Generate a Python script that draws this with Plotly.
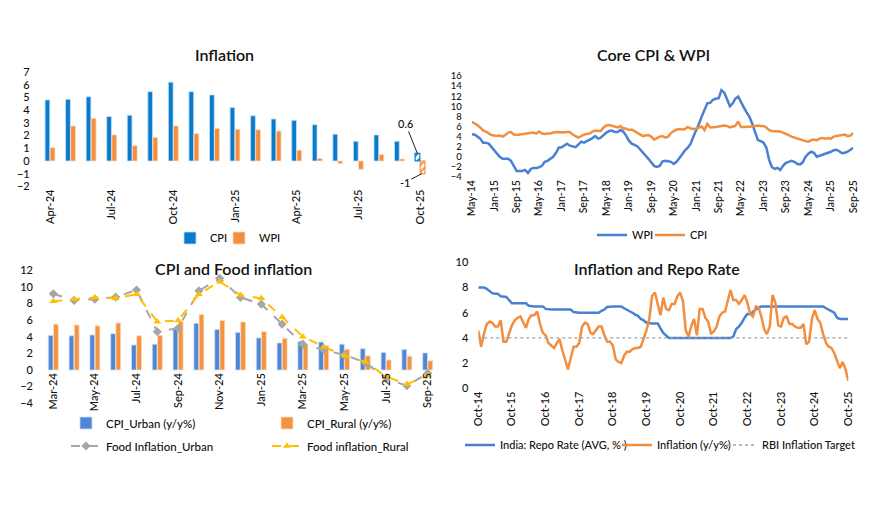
import plotly.graph_objects as go
import pandas as pd

W, H = 879, 505

# ---------------- Panel 1: Inflation (CPI vs WPI) ----------------
p1_months = ["Apr-24", "May-24", "Jun-24", "Jul-24", "Aug-24", "Sep-24", "Oct-24", "Nov-24",
             "Dec-24", "Jan-25", "Feb-25", "Mar-25", "Apr-25", "May-25", "Jun-25", "Jul-25",
             "Aug-25", "Sep-25", "Oct-25"]
p1_cpi = [4.8, 4.85, 5.05, 3.5, 3.6, 5.45, 6.2, 5.45, 5.2, 4.2, 3.55, 3.3, 3.2, 2.85, 2.1,
          1.55, 2.05, 1.55, 0.6]
p1_wpi = [1.05, 2.75, 3.35, 2.05, 1.2, 1.85, 2.75, 2.15, 2.55, 2.5, 2.45, 2.35, 0.85, 0.2,
          -0.2, -0.65, 0.5, 0.15, -1.0]
p1_forecast = [False] * 18 + [True]
p1_ticks = ["Apr-24", "Jul-24", "Oct-24", "Jan-25", "Apr-25", "Jul-25", "Oct-25"]

# ---------------- Panel 2: Core CPI & WPI (May-14 .. Sep-25) ----------------
p2_start = "2014-05-01"
p2_wpi = [4.4, 4.4, 4.0, 3.6, 2.8, 2.8, 2.6, 2.0,
          1.3, 0.6, 0.0, -0.4, -0.4, -0.4, -0.8, -1.8, -2.8, -2.8, -2.8, -2.6,
          -3.2, -2.4, -2.2, -2.2, -2.1, -1.8, -1.0, -0.8, -0.4, 0.0, 0.8, 1.8,
          1.9, 2.2, 2.6, 2.2, 2.1, 1.9, 2.4, 3.0, 2.8, 3.1, 3.3, 3.7,
          4.1, 3.6, 3.8, 4.4, 4.8, 5.1, 5.2, 4.9, 4.9, 5.3, 5.0, 4.2,
          3.2, 2.6, 2.4, 2.1, 1.5, 0.9, 0.2, -0.4, -1.1, -1.8, -2.0, -1.8,
          -0.9, -0.8, -0.9, -1.0, -1.4, -1.0, -0.3, 0.6, 1.3, 1.8, 2.6, 4.0,
          5.2, 6.6, 8.0, 9.4, 10.6, 10.7, 11.3, 11.5, 11.6, 13.2, 12.7, 11.4,
          10.0, 10.6, 11.5, 11.9, 11.0, 9.8, 8.8, 7.9, 6.5, 4.8, 3.3, 3.1,
          2.8, 1.8, -0.5, -2.0, -2.4, -2.2, -2.6, -1.8, -1.2, -1.0, -0.8, -1.0,
          -1.4, -1.5, -1.1, 0.0, 0.6, 1.0, 0.8, 0.0, 0.2, 0.4, 0.5, 0.7,
          1.0, 1.3, 1.4, 1.1, 0.7, 0.8, 1.0, 1.4, 1.8]
p2_cpi = [6.9, 6.6, 6.3, 5.8, 5.2, 5.0, 4.6, 4.3,
          4.2, 4.1, 4.2, 4.0, 4.3, 4.8, 4.9, 4.4, 4.3, 4.4, 4.5, 4.6,
          4.7, 4.8, 4.8, 4.6, 5.0, 4.6, 4.5, 4.6, 4.6, 4.8, 4.9, 4.9,
          4.8, 4.9, 4.9, 4.9, 4.4, 4.1, 3.8, 4.1, 4.4, 4.5, 4.6, 5.0,
          5.2, 5.1, 5.1, 5.8, 6.2, 6.3, 6.1, 5.9, 5.8, 6.1, 5.6, 5.6,
          5.3, 5.4, 5.1, 4.6, 4.3, 4.1, 4.2, 4.3, 4.0, 3.4, 3.7, 4.0,
          4.1, 3.8, 4.0, 4.7, 5.1, 5.4, 5.5, 5.4, 5.5, 5.9, 5.6, 5.5,
          5.6, 5.8, 6.0, 5.3, 6.5, 5.8, 5.8, 5.9, 6.0, 6.1, 6.2, 6.1,
          5.8, 6.0, 6.1, 7.0, 5.9, 5.9, 5.9, 6.0, 6.0, 6.1, 6.2, 6.1,
          6.1, 5.8, 5.3, 5.1, 5.1, 5.0, 5.0, 4.8, 4.6, 4.3, 4.0, 3.8,
          3.6, 3.4, 3.2, 3.1, 3.0, 3.3, 3.4, 3.3, 3.6, 3.7, 3.6, 3.7,
          3.6, 4.0, 4.1, 4.2, 4.3, 4.4, 4.1, 4.2, 4.7]

# ---------------- Panel 3: CPI and Food inflation ----------------
p3_months = ["Mar-24", "Apr-24", "May-24", "Jun-24", "Jul-24", "Aug-24", "Sep-24", "Oct-24",
             "Nov-24", "Dec-24", "Jan-25", "Feb-25", "Mar-25", "Apr-25", "May-25", "Jun-25",
             "Jul-25", "Aug-25", "Sep-25"]
p3_cpi_urban = [4.15, 4.1, 4.2, 4.35, 3.0, 3.1, 4.9, 5.6, 4.85, 4.5, 3.85, 3.25, 3.4, 3.35,
                3.1, 2.55, 2.1, 2.45, 2.05]
p3_cpi_rural = [5.5, 5.4, 5.3, 5.65, 4.1, 4.15, 5.8, 6.65, 5.95, 5.75, 4.6, 3.8, 3.0, 2.9,
                2.5, 1.7, 1.2, 1.65, 1.1]
p3_food_urban = [9.15, 8.35, 8.5, 8.75, 9.6, 4.6, 5.0, 9.5, 11.0, 8.7, 7.9, 5.5, 3.1, 2.4,
                 1.8, 0.9, -1.0, -1.9, -0.4]
p3_food_rural = [8.25, 8.5, 8.7, 8.6, 9.1, 5.8, 5.95, 9.1, 10.6, 9.0, 8.6, 6.35, 4.0, 2.8,
                 1.7, 1.0, -0.8, -1.7, -0.7]
p3_ticks = ["Mar-24", "May-24", "Jul-24", "Sep-24", "Nov-24", "Jan-25", "Mar-25", "May-25",
            "Jul-25", "Sep-25"]

# ---------------- Panel 4: Inflation and Repo Rate (Oct-14 .. Oct-25) ----------------
p4_start = "2014-10-01"
p4_repo = [8.0, 8.0, 8.0,
           7.9, 7.75, 7.55, 7.5, 7.5, 7.3, 7.25, 7.25, 7.0, 6.75, 6.75, 6.75,
           6.75, 6.75, 6.75, 6.55, 6.5, 6.5, 6.5, 6.5, 6.5, 6.3, 6.25, 6.25,
           6.25, 6.25, 6.25, 6.25, 6.25, 6.25, 6.25, 6.05, 6.0, 6.0, 6.0, 6.0,
           6.0, 6.0, 6.0, 6.0, 6.0, 6.15, 6.25, 6.45, 6.5, 6.5, 6.5, 6.5,
           6.5, 6.35, 6.25, 6.1, 6.0, 5.85, 5.75, 5.5, 5.4, 5.2, 5.15, 5.15,
           5.15, 5.15, 4.75, 4.4, 4.2, 4.0, 4.0, 4.0, 4.0, 4.0, 4.0, 4.0,
           4.0, 4.0, 4.0, 4.0, 4.0, 4.0, 4.0, 4.0, 4.0, 4.0, 4.0, 4.0,
           4.0, 4.0, 4.0, 4.0, 4.1, 4.7, 4.9, 5.2, 5.6, 5.9, 5.9, 6.1,
           6.25, 6.4, 6.5, 6.5, 6.5, 6.5, 6.5, 6.5, 6.5, 6.5, 6.5, 6.5,
           6.5, 6.5, 6.5, 6.5, 6.5, 6.5, 6.5, 6.5, 6.5, 6.5, 6.5, 6.5,
           6.5, 6.35, 6.25, 6.1, 6.0, 5.6, 5.5, 5.5, 5.5, 5.5]
p4_inflation = [4.6, 3.3, 4.3,
                5.1, 5.3, 5.2, 4.9, 4.9, 5.4, 3.7, 3.7, 4.4, 5.0, 5.4, 5.6,
                5.7, 5.2, 4.8, 5.5, 5.8, 5.8, 6.1, 5.1, 4.4, 4.2, 3.6, 3.4,
                3.2, 3.6, 3.9, 3.0, 2.2, 1.5, 2.4, 3.3, 3.3, 3.6, 4.9, 5.2,
                5.1, 4.4, 4.3, 4.6, 4.9, 4.9, 4.2, 3.7, 3.7, 3.4, 2.3, 2.1,
                2.0, 2.6, 2.9, 2.9, 3.1, 3.2, 3.2, 3.3, 4.0, 4.6, 5.5, 7.35,
                7.6, 6.6, 5.8, 7.2, 6.3, 6.2, 6.7, 6.7, 7.3, 7.6, 6.9, 4.6,
                4.1, 5.0, 5.5, 4.2, 6.3, 6.3, 5.6, 5.3, 4.35, 4.5, 4.9, 5.7,
                6.0, 6.1, 7.0, 7.8, 7.0, 7.0, 6.7, 7.0, 7.4, 6.8, 5.9, 5.7,
                6.5, 6.4, 5.7, 4.7, 4.3, 4.9, 7.4, 6.8, 5.0, 4.9, 5.6, 5.7,
                5.1, 5.1, 4.9, 4.8, 4.8, 5.1, 3.5, 3.7, 5.5, 6.2, 5.5, 5.2,
                4.3, 3.6, 3.3, 3.2, 2.8, 2.1, 1.6, 2.1, 1.5, 0.6]
p4_target = 4.0

# ---------------- styling ----------------
FONT = "Lato"
BLUE1, ORANGE1 = "#0A7BCC", "#F28E3E"
BLUE2, ORANGE2 = "#4A80D2", "#F28E3E"
GRAY, YELLOW = "#A6A6A6", "#FFC000"


def px_x(p):
    return p / W


def px_y(p):
    return 1 - p / H


p2_dates = pd.date_range(p2_start, periods=len(p2_wpi), freq="MS")
p4_dates = pd.date_range(p4_start, periods=len(p4_repo), freq="MS")

fig = go.Figure()


def bar_style(color, light, flags):
    return dict(
        color=color,
        line=dict(color=[color if f else light for f in flags],
                  width=[1.2 if f else 0.8 for f in flags]),
        pattern=dict(shape=["/" if f else "" for f in flags], fillmode="replace",
                     bgcolor="white", size=5, solidity=0.35),
    )


# Panel 1 bars
fig.add_trace(go.Bar(x=p1_months, y=p1_cpi, name="CPI", xaxis="x", yaxis="y",
                     marker=bar_style(BLUE1, "#BFE0F7", p1_forecast), legend="legend"))
fig.add_trace(go.Bar(x=p1_months, y=p1_wpi, name="WPI", xaxis="x", yaxis="y",
                     marker=bar_style(ORANGE1, "#FBD9BC", p1_forecast), legend="legend6"))

# Panel 2 lines
fig.add_trace(go.Scatter(x=p2_dates, y=p2_wpi, name="WPI", mode="lines", xaxis="x2", yaxis="y2",
                         line=dict(color=BLUE2, width=2.5), legend="legend2"))
fig.add_trace(go.Scatter(x=p2_dates, y=p2_cpi, name="CPI", mode="lines", xaxis="x2", yaxis="y2",
                         line=dict(color=ORANGE2, width=2.5), legend="legend7"))

# Panel 3
fig.add_trace(go.Bar(x=p3_months, y=p3_cpi_urban, name="CPI_Urban (y/y%)", xaxis="x3", yaxis="y3",
                     marker=dict(color="#4F86D6", line=dict(color="#C9DAF3", width=0.8)),
                     legend="legend3"))
fig.add_trace(go.Bar(x=p3_months, y=p3_cpi_rural, name="CPI_Rural (y/y%)", xaxis="x3", yaxis="y3",
                     marker=dict(color="#F39442", line=dict(color="#FBDCC0", width=0.8)),
                     legend="legend3"))
fig.add_trace(go.Scatter(x=p3_months, y=p3_food_urban, name="Food Inflation_Urban",
                         mode="lines+markers", xaxis="x3", yaxis="y3",
                         line=dict(color=GRAY, width=2, dash="dash"),
                         marker=dict(symbol="diamond", size=7, color=GRAY), legend="legend5"))
fig.add_trace(go.Scatter(x=p3_months, y=p3_food_rural, name="Food inflation_Rural",
                         mode="lines+markers", xaxis="x3", yaxis="y3",
                         line=dict(color=YELLOW, width=2, dash="dash"),
                         marker=dict(symbol="triangle-up", size=7, color=YELLOW), legend="legend5"))

# Panel 4
fig.add_trace(go.Scatter(x=p4_dates, y=p4_repo, name="India: Repo Rate (AVG, % )", mode="lines",
                         xaxis="x4", yaxis="y4", line=dict(color=BLUE2, width=2.5),
                         legend="legend4"))
fig.add_trace(go.Scatter(x=p4_dates, y=p4_inflation, name="Inflation (y/y%)", mode="lines",
                         xaxis="x4", yaxis="y4", line=dict(color=ORANGE2, width=2.5),
                         legend="legend8"))
fig.add_trace(go.Scatter(x=[p4_dates[0], p4_dates[-1]], y=[p4_target, p4_target],
                         name="RBI Inflation Target", mode="lines", xaxis="x4", yaxis="y4",
                         line=dict(color="#A0A0A0", width=1.3, dash="dot"), legend="legend9"))

tickfont = dict(family=FONT, size=11, color="#111111", weight=500)
tickfont_x2 = dict(family=FONT, size=10.5, color="#111111", weight=500)
tickfont_y2 = dict(family=FONT, size=9.5, color="#111111", weight=500)
common_y = dict(showgrid=False, zeroline=False, showline=False, ticks="", ticklabelstandoff=9)
common_x = dict(showgrid=False, zeroline=False, showline=False, ticks="", tickangle=-90)

y3_dom = [px_y(403.3), px_y(270)]
y3_range = [-4, 12]
x3_pos = y3_dom[0] + (0 - y3_range[0]) / (y3_range[1] - y3_range[0]) * (y3_dom[1] - y3_dom[0])

legend_font = dict(family=FONT, size=11, color="#111111", weight=500)
legend_font_p3 = dict(family=FONT, size=11.5, color="#111111", weight=500)


def leg(x, y, **kw):
    d = dict(x=x, y=y, xref="paper", yref="paper", xanchor="left", yanchor="middle",
             orientation="h", bgcolor="rgba(0,0,0,0)", font=legend_font, itemwidth=30,
             traceorder="normal")
    d.update(kw)
    return d


fig.update_layout(
    width=W, height=H, autosize=False,
    margin=dict(l=0, r=0, t=0, b=0, autoexpand=False),
    paper_bgcolor="white", plot_bgcolor="white",
    barmode="group", bargap=0.5, bargroupgap=0.08,
    font=dict(family=FONT, color="#111111"),
    xaxis=dict(domain=[px_x(39.7), px_x(430.3)], anchor="y", type="category",
               range=[-0.5, len(p1_months) - 0.5], tickmode="array",
               tickvals=p1_ticks, ticktext=p1_ticks, tickfont=tickfont, **common_x),
    yaxis=dict(domain=[px_y(186.4), px_y(72)], anchor="x", range=[-2, 7], dtick=1,
               tickfont=tickfont, **common_y),
    xaxis2=dict(domain=[px_x(471.7), px_x(853.3)], anchor="y2", type="date",
                range=[p2_dates[0], p2_dates[-1]], tick0=p2_start, dtick="M8",
                tickformat="%b-%y", tickfont=tickfont_x2, **common_x),
    yaxis2=dict(domain=[px_y(177), px_y(76)], anchor="x2", range=[-4, 16], dtick=2,
                tickfont=tickfont_y2, **common_y),
    xaxis3=dict(domain=[px_x(42.9), px_x(438.1)], anchor="free", position=x3_pos,
                type="category", range=[-0.5, len(p3_months) - 0.5], tickmode="array",
                tickvals=p3_ticks, ticktext=p3_ticks, tickfont=tickfont, **common_x),
    yaxis3=dict(domain=y3_dom, anchor="x3", range=y3_range, dtick=2, tickfont=tickfont,
                **common_y),
    xaxis4=dict(domain=[px_x(478.3), px_x(848.3)], anchor="y4", type="date",
                range=[p4_dates[0], p4_dates[-1]], tick0=p4_start, dtick="M12",
                tickformat="%b-%y", tickfont=tickfont, **common_x),
    yaxis4=dict(domain=[px_y(388.3), px_y(262.3)], anchor="x4", range=[0, 10], dtick=2,
                tickfont=tickfont, **common_y),
    legend=leg(px_x(170), px_y(238)),
    legend6=leg(px_x(219), px_y(238)),
    legend2=leg(px_x(592), px_y(235)),
    legend7=leg(px_x(650), px_y(235)),
    legend3=leg(px_x(66), px_y(423), entrywidth=156, font=legend_font_p3),
    legend5=leg(px_x(66), px_y(446), entrywidth=156, font=legend_font_p3),
    legend4=leg(px_x(460), px_y(445)),
    legend8=leg(px_x(617), px_y(445)),
    legend9=leg(px_x(722), px_y(445)),
    showlegend=True,
)

title_font = dict(family=FONT, size=16, color="#111111", weight=600)
titles = [("Inflation", 225, 55), ("Core CPI & WPI", 653, 55),
          ("CPI and Food inflation", 233, 268), ("Inflation and Repo Rate", 657, 268)]
for text, cx, cy in titles:
    fig.add_annotation(text=text, x=px_x(cx), y=px_y(cy), xref="paper", yref="paper",
                       showarrow=False, xanchor="center", yanchor="middle", font=title_font)

# data labels for the forecast bars
lab_font = dict(family=FONT, size=11, color="#111111", weight=500)
fig.add_annotation(x=len(p1_months) - 1 - 0.13, y=p1_cpi[-1], xref="x", yref="y",
                   text=f"{p1_cpi[-1]:g}", showarrow=True, arrowhead=0, arrowwidth=1,
                   arrowcolor="#222", ax=-12, ay=-30, font=lab_font, standoff=0)
fig.add_annotation(x=len(p1_months) - 1 + 0.08, y=p1_wpi[-1], xref="x", yref="y",
                   text=f"{p1_wpi[-1]:g}", showarrow=True, arrowhead=0, arrowwidth=1,
                   arrowcolor="#222", ax=-17, ay=9, font=lab_font, standoff=0)

fig.write_html("out.html")
